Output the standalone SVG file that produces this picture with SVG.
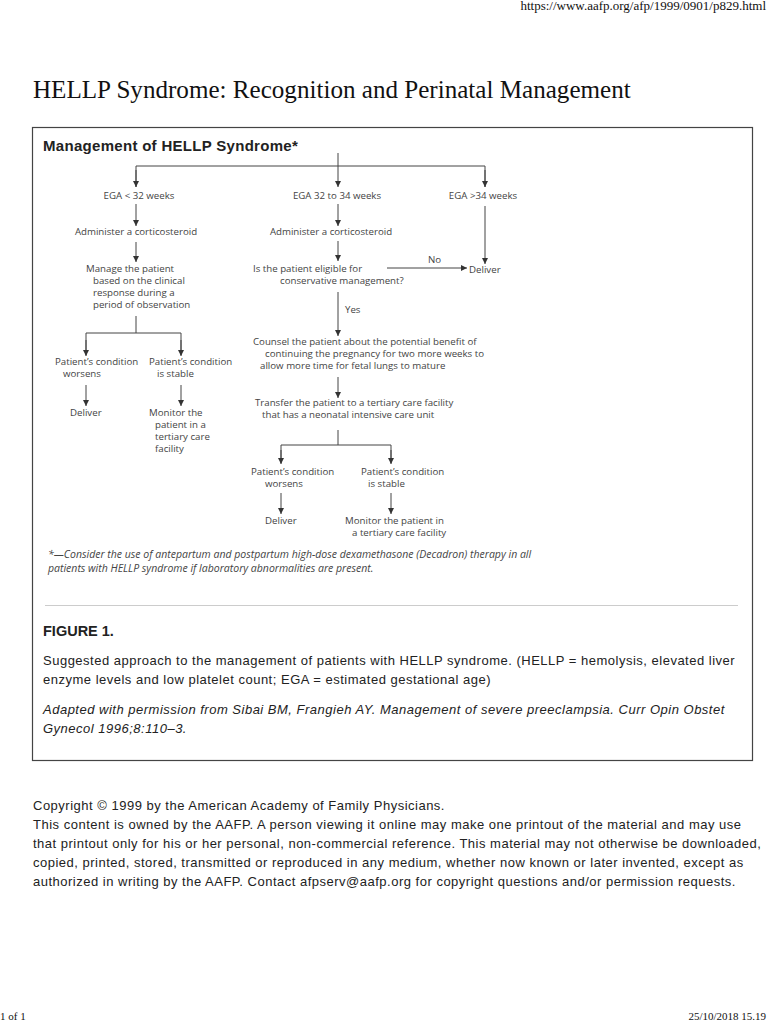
<svg xmlns="http://www.w3.org/2000/svg" width="768" height="1024" viewBox="0 0 768 1024">
<defs>
<marker id="ah" viewBox="0 0 6 8" refX="6" refY="4" markerWidth="6" markerHeight="8" orient="auto" markerUnits="userSpaceOnUse">
<path d="M0,1 L6,4 L0,7 Z" fill="#333"/>
</marker>
<style>
.serif{font-family:"Liberation Serif","Times New Roman",serif;fill:#111}
.fc{font-family:"Open Sans","Liberation Sans",Arial,sans-serif;font-size:9.7px;fill:#444}
.fn{font-family:"Open Sans","Liberation Sans",Arial,sans-serif;font-size:10.5px;font-style:italic;fill:#444}
.body{font-family:"Liberation Sans",Arial,sans-serif;font-size:13px;letter-spacing:0.5px;fill:#222}
.ln{fill:none;stroke:#444;stroke-width:1}
.arr{fill:none;stroke:#444;stroke-width:1;marker-end:url(#ah)}
</style>
</defs>
<rect width="768" height="1024" fill="#fff"/>

<text class="serif" x="766" y="10" font-size="13" text-anchor="end">https://www.aafp.org/afp/1999/0901/p829.html</text>
<text class="serif" x="33" y="98" font-size="25.1">HELLP Syndrome: Recognition and Perinatal Management</text>

<rect x="32.5" y="127.5" width="720" height="633" fill="none" stroke="#444" stroke-width="1.2"/>
<text x="43" y="151" font-family="'Liberation Sans',Arial,sans-serif" font-size="15" letter-spacing="0.3" font-weight="bold" fill="#222">Management of HELLP Syndrome*</text>

<g id="connectors">
<line class="arr" x1="338" y1="153" x2="338" y2="187"/>
<polyline class="ln" points="136,187 136,166 485,166 485,187"/>
<line class="arr" x1="136" y1="170" x2="136" y2="187"/>
<line class="arr" x1="485" y1="170" x2="485" y2="187"/>
<line class="arr" x1="136" y1="204" x2="136" y2="226"/>
<line class="arr" x1="338" y1="204" x2="338" y2="226"/>
<line class="arr" x1="136" y1="242" x2="136" y2="262"/>
<line class="arr" x1="338" y1="241" x2="338" y2="261"/>
<line class="arr" x1="387" y1="268" x2="467" y2="268"/>
<line class="arr" x1="485" y1="206" x2="485" y2="264"/>
<line class="arr" x1="338" y1="292" x2="338" y2="336"/>
<polyline class="ln" points="136,316 136,333"/>
<polyline class="ln" points="86,355 86,333 181,333 181,355"/>
<line class="arr" x1="86" y1="340" x2="86" y2="356"/>
<line class="arr" x1="181" y1="340" x2="181" y2="356"/>
<line class="arr" x1="86" y1="385" x2="86" y2="406"/>
<line class="arr" x1="181" y1="385" x2="181" y2="406"/>
<line class="arr" x1="338" y1="377" x2="338" y2="398"/>
<polyline class="ln" points="338,430 338,445"/>
<polyline class="ln" points="281,463 281,445 391,445 391,463"/>
<line class="arr" x1="281" y1="450" x2="281" y2="464"/>
<line class="arr" x1="391" y1="450" x2="391" y2="464"/>
<line class="arr" x1="281" y1="493" x2="281" y2="514"/>
<line class="arr" x1="391" y1="493" x2="391" y2="514"/>
<text class="fc" x="428" y="263">No</text>
<text class="fc" x="345" y="313">Yes</text>
</g>

<g id="ega-lt32"><text class="fc" x="139" y="199" text-anchor="middle">EGA &lt; 32 weeks</text></g>
<g id="ega-32-34"><text class="fc" x="337" y="199" text-anchor="middle">EGA 32 to 34 weeks</text></g>
<g id="ega-gt34"><text class="fc" x="483" y="199" text-anchor="middle">EGA &gt;34 weeks</text></g>
<g id="admin-left"><text class="fc" x="136" y="235" text-anchor="middle">Administer a corticosteroid</text></g>
<g id="admin-mid"><text class="fc" x="331" y="235" text-anchor="middle">Administer a corticosteroid</text></g>
<g id="manage">
<text class="fc" x="86" y="272">Manage the patient</text>
<text class="fc" x="93" y="284">based on the clinical</text>
<text class="fc" x="93" y="296">response during a</text>
<text class="fc" x="93" y="308">period of observation</text>
</g>
<g id="eligible">
<text class="fc" x="253" y="272">Is the patient eligible for</text>
<text class="fc" x="280" y="284">conservative management?</text>
</g>
<g id="deliver-right"><text class="fc" x="469" y="273">Deliver</text></g>
<g id="worsens-left">
<text class="fc" x="55" y="365">Patient’s condition</text>
<text class="fc" x="63" y="377">worsens</text>
</g>
<g id="stable-left">
<text class="fc" x="149" y="365">Patient’s condition</text>
<text class="fc" x="157" y="377">is stable</text>
</g>
<g id="deliver-left"><text class="fc" x="70" y="416">Deliver</text></g>
<g id="monitor-left">
<text class="fc" x="149" y="416">Monitor the</text>
<text class="fc" x="155" y="428">patient in a</text>
<text class="fc" x="155" y="440">tertiary care</text>
<text class="fc" x="155" y="452">facility</text>
</g>
<g id="counsel">
<text class="fc" x="253" y="345">Counsel the patient about the potential benefit of</text>
<text class="fc" x="265" y="357">continuing the pregnancy for two more weeks to</text>
<text class="fc" x="260" y="369">allow more time for fetal lungs to mature</text>
</g>
<g id="transfer">
<text class="fc" x="255" y="406">Transfer the patient to a tertiary care facility</text>
<text class="fc" x="262" y="418">that has a neonatal intensive care unit</text>
</g>
<g id="worsens-mid">
<text class="fc" x="251" y="475">Patient’s condition</text>
<text class="fc" x="265" y="487">worsens</text>
</g>
<g id="stable-mid">
<text class="fc" x="361" y="475">Patient’s condition</text>
<text class="fc" x="368" y="487">is stable</text>
</g>
<g id="deliver-mid"><text class="fc" x="265" y="524">Deliver</text></g>
<g id="monitor-mid">
<text class="fc" x="345" y="524">Monitor the patient in</text>
<text class="fc" x="352" y="536">a tertiary care facility</text>
</g>

<text class="fn" x="48" y="558">*—Consider the use of antepartum and postpartum high-dose dexamethasone (Decadron) therapy in all</text>
<text class="fn" x="48" y="572">patients with HELLP syndrome if laboratory abnormalities are present.</text>

<line x1="45" y1="605.5" x2="738" y2="605.5" stroke="#ccc" stroke-width="1"/>
<text x="43" y="636" font-family="'Liberation Sans',Arial,sans-serif" font-size="14.5" font-weight="bold" fill="#222">FIGURE 1.</text>
<text class="body" x="43" y="665">Suggested approach to the management of patients with HELLP syndrome. (HELLP = hemolysis, elevated liver</text>
<text class="body" x="43" y="684">enzyme levels and low platelet count; EGA = estimated gestational age)</text>
<text class="body" x="43" y="714" font-style="italic">Adapted with permission from Sibai BM, Frangieh AY. Management of severe preeclampsia. Curr Opin Obstet</text>
<text class="body" x="43" y="733" font-style="italic">Gynecol 1996;8:110–3.</text>

<text class="body" x="33" y="810">Copyright © 1999 by the American Academy of Family Physicians.</text>
<text class="body" x="33" y="829">This content is owned by the AAFP. A person viewing it online may make one printout of the material and may use</text>
<text class="body" x="33" y="848">that printout only for his or her personal, non-commercial reference. This material may not otherwise be downloaded,</text>
<text class="body" x="33" y="867">copied, printed, stored, transmitted or reproduced in any medium, whether now known or later invented, except as</text>
<text class="body" x="33" y="886">authorized in writing by the AAFP. Contact afpserv@aafp.org for copyright questions and/or permission requests.</text>

<text class="serif" x="0" y="1020" font-size="11">1 of 1</text>
<text class="serif" x="766" y="1020" font-size="11" text-anchor="end">25/10/2018 15.19</text>
</svg>
